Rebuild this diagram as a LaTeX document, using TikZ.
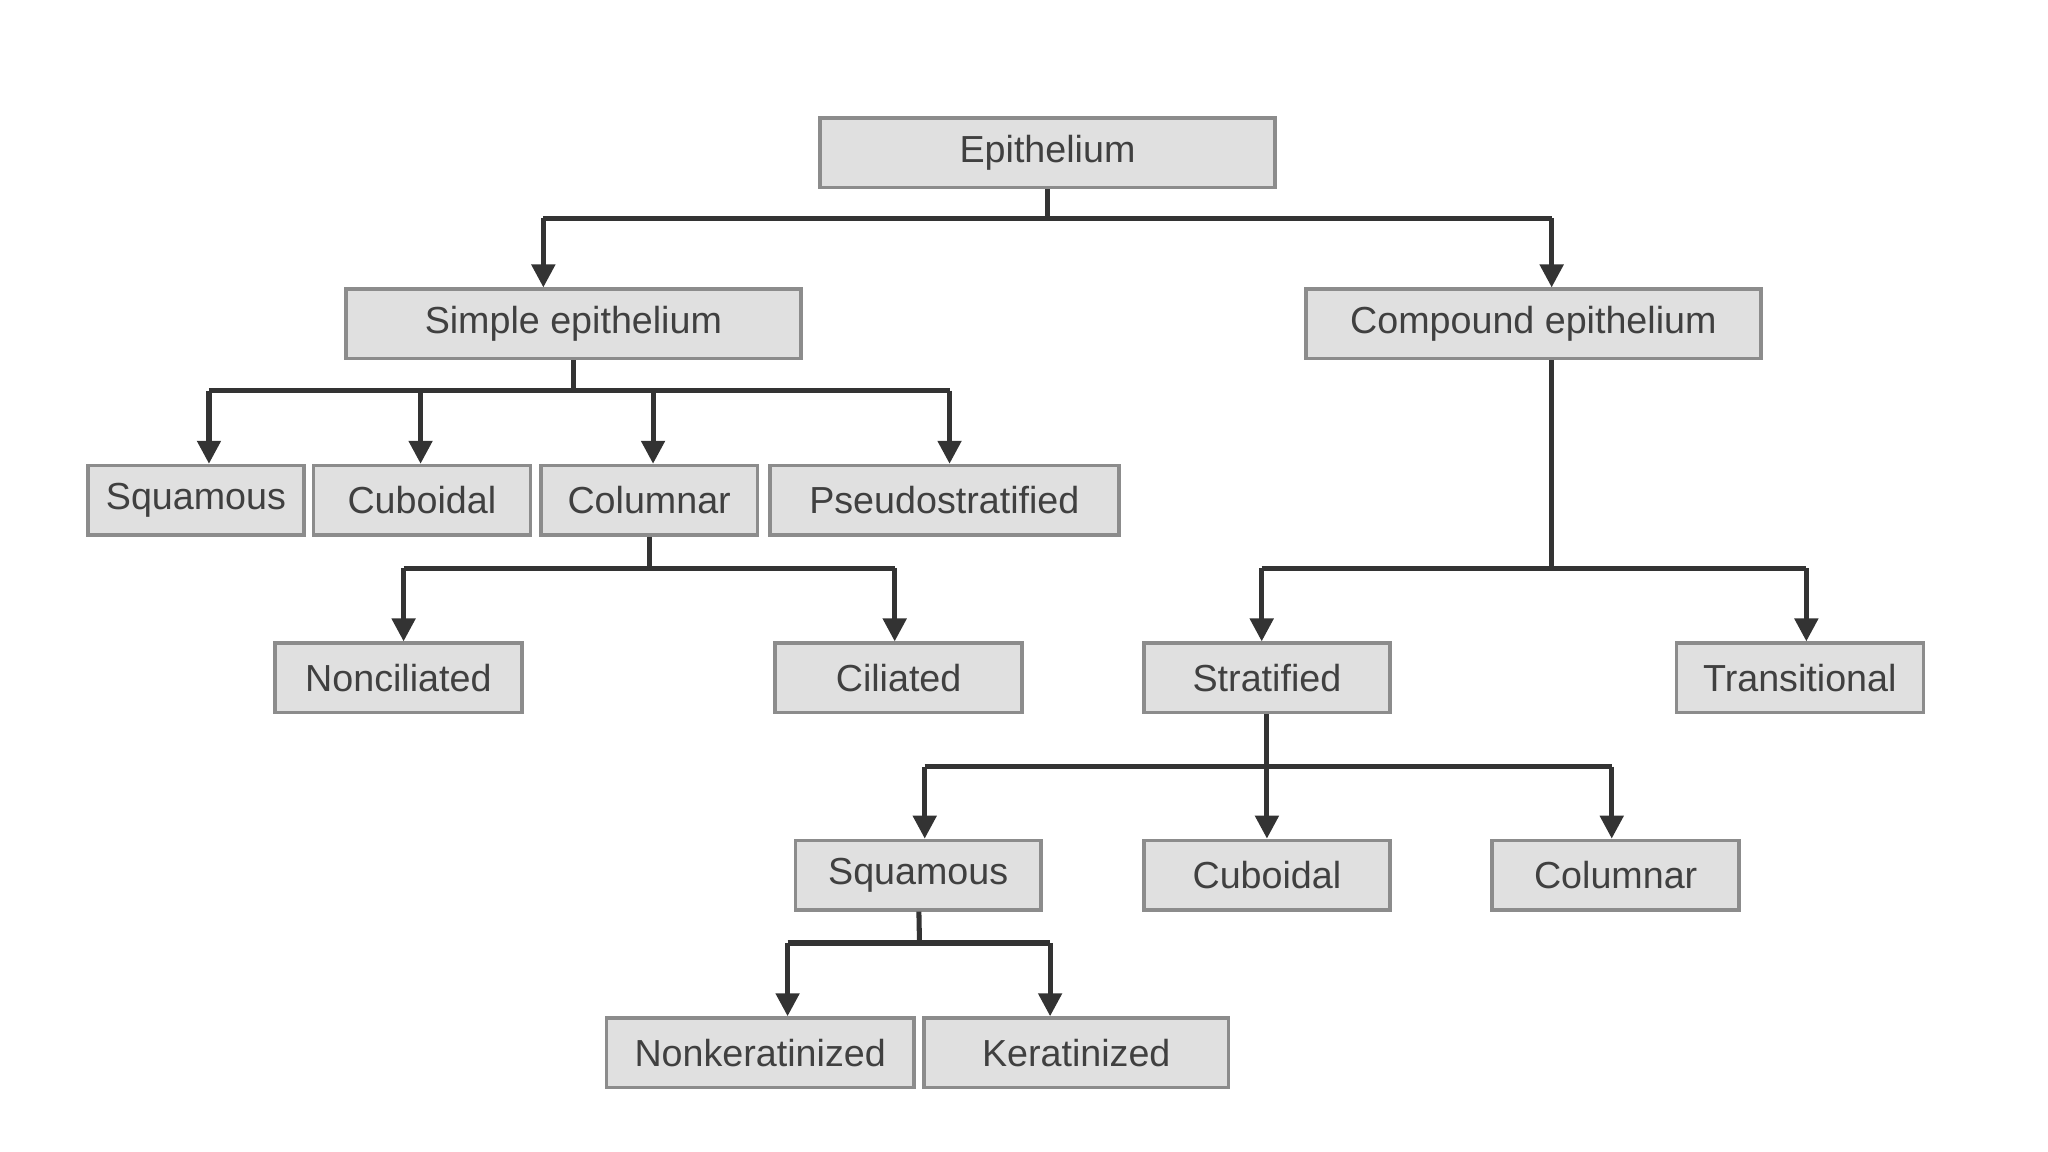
\documentclass[tikz,border=0pt]{standalone}
\usepackage{fontspec}
\setmainfont{Liberation Sans}
\usetikzlibrary{arrows.meta}
\begin{document}
\begin{tikzpicture}[x=0.01cm,y=-0.01cm,
  box/.style={draw=black!45,fill=black!12,line width=0.8pt,minimum height=0.53cm,inner sep=0pt,font=\fontsize{8.2pt}{9pt}\selectfont,text=black!75},
  conn/.style={draw=black!80,line width=1.1pt},
  arr/.style={conn,-{Triangle[length=5pt,width=5pt]}}]
\useasboundingbox[fill=white] (0,0) rectangle (1568,882);
\node[box,minimum width=3.48cm] (epi) at (802,117) {Epithelium};
\node[box,minimum width=3.48cm] (sim) at (439,248) {Simple epithelium};
\node[box,minimum width=3.48cm] (com) at (1174,248) {Compound epithelium};
\node[box,minimum width=1.65cm] (sq) at (150,383) {Squamous};
\node[box,minimum width=1.66cm] (cu) at (323,383) {Cuboidal};
\node[box,minimum width=1.66cm] (co) at (497,383) {Columnar};
\node[box,minimum width=2.67cm] (ps) at (723,383) {Pseudostratified};
\node[box,minimum width=1.89cm] (nc) at (305,519) {Nonciliated};
\node[box,minimum width=1.89cm] (ci) at (688,519) {Ciliated};
\node[box,minimum width=1.88cm] (st) at (970,519) {Stratified};
\node[box,minimum width=1.89cm] (tr) at (1378,519) {Transitional};
\node[box,minimum width=1.88cm] (sq2) at (703,670) {Squamous};
\node[box,minimum width=1.88cm] (cu2) at (970,670) {Cuboidal};
\node[box,minimum width=1.89cm] (co2) at (1237,670) {Columnar};
\node[box,minimum width=2.35cm] (nk) at (582,806) {Nonkeratinized};
\node[box,minimum width=2.33cm] (ke) at (824,806) {Keratinized};
% epithelium
\coordinate (e0) at (802,167); \coordinate (e1) at (416,167); \coordinate (e2) at (1188,167);
\draw[conn] (epi) -- (e0); \draw[conn] (e1) -- (e2);
\draw[arr] (e1) -- (e1 |- sim.north); \draw[arr] (e2) -- (e2 |- com.north);
% simple
\coordinate (s0) at (439,299); \coordinate (s1) at (160,299); \coordinate (s2) at (322,299);
\coordinate (s3) at (500,299); \coordinate (s4) at (727,299);
\draw[conn] (sim) -- (s0); \draw[conn] (s1) -- (s4);
\draw[arr] (s1) -- (s1 |- sq.north); \draw[arr] (s2) -- (s2 |- cu.north);
\draw[arr] (s3) -- (s3 |- co.north); \draw[arr] (s4) -- (s4 |- ps.north);
% compound
\coordinate (c0) at (1188,435); \coordinate (c1) at (966,435); \coordinate (c2) at (1383,435);
\draw[conn] (com.south -| c0) -- (c0); \draw[conn] (c1) -- (c2);
\draw[arr] (c1) -- (c1 |- st.north); \draw[arr] (c2) -- (c2 |- tr.north);
% columnar
\coordinate (k0) at (497,435); \coordinate (k1) at (309,435); \coordinate (k2) at (685,435);
\draw[conn] (co) -- (k0); \draw[conn] (k1) -- (k2);
\draw[arr] (k1) -- (k1 |- nc.north); \draw[arr] (k2) -- (k2 |- ci.north);
% stratified
\coordinate (t0) at (970,587); \coordinate (t1) at (708,587); \coordinate (t3) at (1234,587);
\draw[conn] (t1) -- (t3);
\draw[arr] (st) -- (cu2);
\draw[arr] (t1) -- (t1 |- sq2.north); \draw[arr] (t3) -- (t3 |- co2.north);
% squamous
\coordinate (q0) at (704,722); \coordinate (q1) at (603,722); \coordinate (q2) at (804,722);
\draw[conn] (sq2) -- (q0); \draw[conn] (q1) -- (q2);
\draw[arr] (q1) -- (q1 |- nk.north); \draw[arr] (q2) -- (q2 |- ke.north);
\end{tikzpicture}
\end{document}
